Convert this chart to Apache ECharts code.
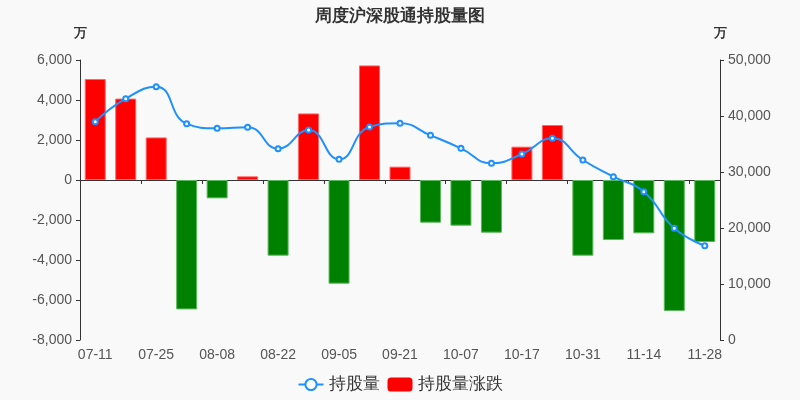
<!DOCTYPE html>
<html>
<head>
<meta charset="utf-8">
<script src="https://cdn.jsdelivr.net/npm/echarts@6/dist/echarts.min.js"></script>
<style>
  body { margin: 0; background: #f9f9f9; }
  #main { width: 800px; height: 400px; }
</style>
</head>
<body>
<div id="main"></div>
<script>
// 周度日期
var dates = ["07-11", "07-18", "07-25", "08-01", "08-08", "08-15", "08-22", "08-29", "09-05", "09-12", "09-21",
  "09-26", "10-07", "10-10", "10-17", "10-24", "10-31", "11-07", "11-14", "11-21", "11-28"];
// 持股量(万)
var holdings = [38980, 43090, 45240, 38630, 37800, 37980, 34170, 37500, 32260, 38040, 38690,
  36550, 34230, 31550, 33210, 36010, 32140, 29170, 26490, 19940, 16850];
// 持股量涨跌(万)
var changes = [5050, 4070, 2130, -6470, -917, 183, -3783, 3330, -5183, 5730, 667,
  -2133, -2283, -2633, 1667, 2750, -3783, -3000, -2667, -6550, -3100];

var myChart = echarts.init(document.getElementById("main"));

var labelStyle = { color: "#555", fontSize: 14, fontFamily: "Arial" };

myChart.setOption({
  backgroundColor: "#f9f9f9",
  title: {
    text: "周度沪深股通持股量图",
    left: "center",
    top: 3,
    textStyle: { color: "#333", fontSize: 17, fontWeight: "bold" },
  },
  grid: { left: 80, right: 80, top: 60, bottom: 60 },
  legend: {
    bottom: 2,
    itemWidth: 25,
    itemHeight: 14,
    textStyle: { color: "#333", fontSize: 17 },
    data: ["持股量", { name: "持股量涨跌", icon: "roundRect" }],
  },
  xAxis: [
    {
      type: "category",
      data: dates,
      axisLine: { show: false, onZero: false },
      axisTick: { show: false },
      axisLabel: Object.assign({ interval: 1, margin: 8 }, labelStyle),
    },
    {
      type: "category",
      data: dates,
      position: "bottom",
      axisLine: { show: true, onZero: true, onZeroAxisIndex: 0, lineStyle: { color: "#333" } },
      axisTick: { show: true, interval: 1, length: 4, lineStyle: { color: "#333" } },
      axisLabel: { show: false },
    },
  ],
  yAxis: [
    {
      type: "value",
      name: "万",
      nameGap: 20,
      nameTextStyle: { color: "#333", fontSize: 13, fontWeight: "bold" },
      min: -8000,
      max: 6000,
      interval: 2000,
      splitLine: { show: false },
      axisLine: { show: true, lineStyle: { color: "#333" } },
      axisTick: { show: true, length: 4 },
      axisLabel: labelStyle,
    },
    {
      type: "value",
      name: "万",
      nameGap: 20,
      nameTextStyle: { color: "#333", fontSize: 13, fontWeight: "bold" },
      min: 0,
      max: 50000,
      interval: 10000,
      splitLine: { show: false },
      axisLine: { show: true, lineStyle: { color: "#333" } },
      axisTick: { show: true, length: 4 },
      axisLabel: labelStyle,
    },
  ],
  series: [
    {
      name: "持股量",
      type: "line",
      yAxisIndex: 1,
      data: holdings,
      smooth: true,
      symbol: "emptyCircle",
      symbolSize: 5,
      z: 3,
      lineStyle: { color: "#1e90ff", width: 2 },
      itemStyle: { color: "#1e90ff" },
    },
    {
      name: "持股量涨跌",
      type: "bar",
      yAxisIndex: 0,
      barWidth: 21,
      data: changes.map(function (v) {
        return {
          value: v,
          itemStyle: {
            color: v >= 0 ? "#ff0000" : "#008000",
            borderColor: v >= 0 ? "#ff6666" : "#5cb85c",
            borderWidth: 1,
          },
        };
      }),
      itemStyle: { color: "#ff0000" },
    },
  ],
});
</script>
</body>
</html>
